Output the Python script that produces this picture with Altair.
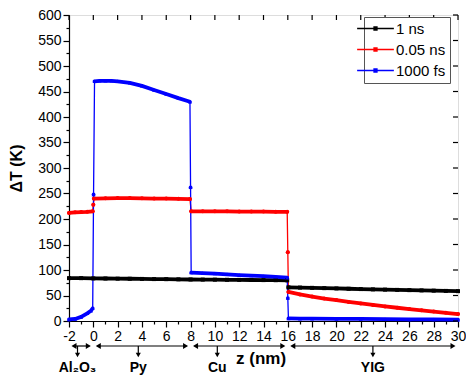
import altair as alt
import pandas as pd

FONT = "Liberation Sans"

# ---- data ----
series_order = ["1 ns", "0.05 ns", "1000 fs"]
series_colors = ["#000000", "#ff0000", "#0000ff"]
series_shapes = ["square", "circle", "triangle-up"]

black_z = [-2, -1, 0, 1, 2, 3, 4, 5, 6, 7, 8, 9, 10, 11, 12, 13, 14, 15, 15.95,
           16.05, 17, 18, 19, 20, 21, 22, 23, 24, 25, 26, 27, 28, 29, 30]
black_T = [84, 84, 83.5, 83.3, 83, 82.8, 82.5, 82.2, 82, 81.7, 81.4, 81.2, 81, 80.8, 80.6, 80.4, 80.2, 80, 79.8,
           66, 65.5, 65, 64.4, 63.8, 63.2, 62.6, 62, 61.5, 61, 60.5, 60, 59.5, 59, 58.5]
black_seg = [1] * 19 + [2] * 15

red_z = [-2, -1.5, -1, -0.5, -0.05,
         0,
         0.05, 1, 2, 3, 4, 5, 6, 7, 7.95,
         8.05, 9, 10, 11, 12, 13, 14, 15, 15.95,
         16,
         16.05, 17, 18, 19, 20, 21, 22, 23, 24, 25, 26, 27, 28, 29, 30]
red_T = [212, 213, 213.5, 214, 215,
         228,
         240, 240.5, 241, 241, 240.5, 240, 240, 239.5, 239,
         215, 215, 215, 215, 214.5, 214.5, 214.5, 214, 214,
         135,
         57, 52, 48, 44, 41, 37.5, 34.5, 31.5, 28.5, 26, 23.5, 21, 18.5, 16, 13.5]
red_seg = [1] * 5 + [2] + [3] * 9 + [4] * 9 + [5] + [6] * 15

blue_z = [-2, -1.5, -1, -0.5, -0.2, -0.05,
          0.02,
          0.1, 0.5, 1, 1.5, 2, 3, 4, 5, 6, 7, 7.95,
          8.0,
          8.05, 9, 10, 11, 12, 13, 14, 15, 15.95,
          16.0,
          16.05, 17, 18, 20, 22, 24, 26, 28, 30]
blue_T = [3, 4, 8, 15, 20, 25,
          248,
          470, 471, 471, 471, 470, 467, 461, 453, 445, 437, 430,
          262,
          95, 94, 93, 91.5, 90, 89, 88, 86.5, 85,
          45,
          5, 4.5, 4.5, 4, 4, 3.5, 3, 3, 2.5]
blue_seg = [1] * 6 + [2] + [3] * 11 + [4] + [5] * 9 + [6] + [7] * 9

x_ticks = list(range(-2, 31))
y_ticks = list(range(0, 601, 25))
x_major = list(range(-2, 31, 2))
y_major = list(range(0, 601, 50))

layer_start = [-2, 0, 8, 16]
layer_end = [0, 8, 16, 30]
layer_label_z = [-1.3, 3.7, 10.2, 23]
layer_labels = ["Al\u2082O\u2083", "Py", "Cu", "YIG"]

xlabel_z = [13.8]
xlabel_text = ["z (nm)"]

# ---- tables ----
rows = []
for name, zs, ts, segs in [("1 ns", black_z, black_T, black_seg),
                           ("0.05 ns", red_z, red_T, red_seg),
                           ("1000 fs", blue_z, blue_T, blue_seg)]:
    for z, t, s in zip(zs, ts, segs):
        rows.append({"series": name, "marker": name, "z": z, "T": t, "seg": f"{name}-{s}"})
df = pd.DataFrame(rows)

ann = pd.DataFrame({"start": layer_start, "end": layer_end,
                    "lz": layer_label_z, "label": layer_labels})
xl = pd.DataFrame({"z": xlabel_z, "text": xlabel_text})
xt = pd.DataFrame({"z": x_major})
yt = pd.DataFrame({"T": y_major})

W, H = 389, 306

xscale = alt.Scale(domain=[-2, 30], nice=False, zero=False)
yscale = alt.Scale(domain=[0, 600], nice=False)
cscale = alt.Scale(domain=series_order, range=series_colors)

x_bottom = alt.Axis(
    values=x_ticks, orient="bottom", title=None, grid=False,
    labelExpr="datum.value % 2 === 0 ? '' + datum.value : ''",
    tickSize={"condition": {"test": "datum.value % 2 === 0", "value": 6}, "value": 3},
    labelFont=FONT, labelFontSize=14, labelColor="black", labelPadding=2,
    labelFlush=False, labelOverlap=False,
    domainColor="black", domainWidth=1.2, tickColor="black", tickWidth=1.2,
)
y_left = alt.Axis(
    values=y_ticks, orient="left", title="\u0394T (K)", grid=False,
    labelExpr="datum.value % 50 === 0 ? '' + datum.value : ''",
    tickSize={"condition": {"test": "datum.value % 50 === 0", "value": 6}, "value": 3},
    labelFont=FONT, labelFontSize=14, labelColor="black", labelPadding=2,
    labelFlush=False, labelOverlap=False,
    domainColor="black", domainWidth=1.2, tickColor="black", tickWidth=1.2,
    titleFont=FONT, titleFontSize=16, titleFontWeight="bold", titleColor="black",
    titlePadding=13,
)

legend = alt.Legend(
    orient="none", legendX=295, legendY=2, title=None,
    symbolType="M-3,0H3M-0.22,-0.22H0.22V0.22H-0.22Z", symbolSize=150, symbolStrokeWidth=1.6,
    labelFont=FONT, labelFontSize=15, labelColor="black", labelOffset=13,
    padding=4, rowPadding=5, strokeColor="#555555", fillColor="white",
)


def X(field):
    return alt.X(field, scale=xscale, axis=None)


def Y(field):
    return alt.Y(field, scale=yscale, axis=None)


base = alt.Chart(df)

thin = base.mark_line(strokeWidth=1.3).encode(
    x=alt.X("z:Q", scale=xscale, axis=x_bottom),
    y=alt.Y("T:Q", scale=yscale, axis=y_left),
    color=alt.Color("series:N", scale=cscale, legend=legend),
)

thick = base.mark_line(strokeWidth=3.8, strokeJoin="round", strokeCap="round").encode(
    x=X("z:Q"),
    y=Y("T:Q"),
    color=alt.Color("series:N", scale=cscale, legend=None),
    detail="seg:N",
)

pts = base.mark_point(filled=True, size=16, opacity=1).encode(
    x=X("z:Q"),
    y=Y("T:Q"),
    color=alt.Color("series:N", scale=cscale, legend=None),
    shape=alt.Shape("marker:N", scale=alt.Scale(domain=series_order, range=series_shapes), legend=None),
)

# inward ticks on the top and right frame
top_ticks = alt.Chart(xt).mark_rule(color="black", strokeWidth=1.2).encode(
    x=X("z:Q"), y=alt.value(0), y2=alt.value(5),
)
right_ticks = alt.Chart(yt).mark_rule(color="black", strokeWidth=1.2).encode(
    y=Y("T:Q"), x=alt.value(W - 5), x2=alt.value(W),
)

ann_base = alt.Chart(ann)
arrow_rule = ann_base.mark_rule(color="black", strokeWidth=1.2, xOffset=4, x2Offset=-4).encode(
    x=X("start:Q"),
    x2="end:Q",
    y=alt.value(H + 25),
)
arrow_l = ann_base.mark_point(shape="triangle-left", filled=True, size=34, color="black",
                              opacity=1, xOffset=5).encode(
    x=X("start:Q"),
    y=alt.value(H + 25),
)
arrow_r = ann_base.mark_point(shape="triangle-right", filled=True, size=34, color="black",
                              opacity=1, xOffset=-5).encode(
    x=X("end:Q"),
    y=alt.value(H + 25),
)
down_rule = ann_base.mark_rule(color="black", strokeWidth=1.2).encode(
    x=X("lz:Q"),
    y=alt.value(H + 25),
    y2=alt.value(H + 33),
)
down_head = ann_base.mark_point(shape="triangle-down", filled=True, size=26, color="black",
                                opacity=1).encode(
    x=X("lz:Q"),
    y=alt.value(H + 34),
)
ann_text = ann_base.mark_text(font=FONT, fontSize=14, fontWeight="bold", color="black",
                              baseline="middle", align="center").encode(
    x=X("lz:Q"),
    y=alt.value(H + 47),
    text="label:N",
)
xlabel = alt.Chart(xl).mark_text(font=FONT, fontSize=17, fontWeight="bold", color="black",
                                 baseline="middle", align="center").encode(
    x=X("z:Q"),
    y=alt.value(H + 38),
    text="text:N",
)

chart = alt.layer(
    thin, thick, pts, top_ticks, right_ticks,
    arrow_rule, arrow_l, arrow_r, down_rule, down_head, ann_text, xlabel
).resolve_axis(
    x="independent", y="independent"
).resolve_legend(
    color="independent", shape="independent"
).properties(
    width=W, height=H,
    autosize=alt.AutoSizeParams(type="none"),
    padding={"left": 61, "top": 7, "right": 8, "bottom": 56},
).configure_view(
    stroke="black", strokeWidth=1.2
).configure(
    background="white"
)

chart.save("out.html", embed_options={"renderer": "svg", "actions": False})
